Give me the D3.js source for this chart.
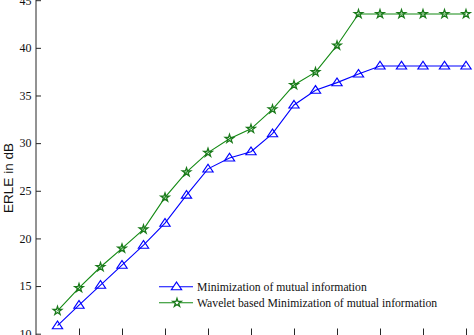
<!DOCTYPE html>
<html>
<head>
<meta charset="utf-8">
<script src="https://cdn.jsdelivr.net/npm/d3@7"></script>
<style>
  html, body { margin: 0; padding: 0; background: #fff; }
  svg { display: block; }
</style>
</head>
<body>
<svg id="chart" width="474" height="335"></svg>
<script>
// ---- data ----
const iterations = [1,2,3,4,5,6,7,8,9,10,11,12,13,14,15,16,17,18,19,20];
const mmiValues = [10.84,13.0,15.1,17.2,19.3,21.6,24.55,27.3,28.45,29.1,31.0,34.0,35.55,36.35,37.25,38.1,38.1,38.1,38.1,38.1];
const waveletValues = [12.4,14.8,17.0,18.95,20.95,24.3,26.95,29.0,30.45,31.5,33.55,36.1,37.45,40.25,43.55,43.55,43.55,43.55,43.55,43.55];
const yTicks = [10,15,20,25,30,35,40,45];
const xTicks = [2,4,6,8,10,12,14,16,18,20];
const seriesNames = ["Minimization of mutual information", "Wavelet based Minimization of mutual information"];
const yLabel = "ERLE in dB";

const svg = d3.select("#chart");
const W = 474, H = 335;
svg.append("rect").attr("width", W).attr("height", H).attr("fill", "#fff");

const x = d3.scaleLinear().domain([0, 20]).range([36, 466]);
const y = d3.scaleLinear().domain([10, 45]).range([333.7, 0.2]);

const axisColor = "#262626";

// y axis
const ya = svg.append("g").attr("transform", "translate(36,0)")
  .call(d3.axisLeft(y).tickValues(yTicks).tickSizeInner(-5).tickSizeOuter(0).tickPadding(4.5).tickFormat(d3.format("d")));
ya.select(".domain").attr("stroke", axisColor).attr("d", "M0,-5V340");
ya.selectAll(".tick line").attr("stroke", axisColor);
ya.selectAll(".tick text").attr("fill", "#111").style("font-family", "'Liberation Serif','Times New Roman',serif").style("font-size", "12px");

// x axis (tick labels lie below the cropped view in the reference)
const xa = svg.append("g").attr("transform", "translate(0,335.5)")
  .call(d3.axisBottom(x).tickValues(xTicks).tickSizeInner(-7).tickSizeOuter(0).tickFormat(""));
xa.select(".domain").attr("stroke", axisColor);
xa.selectAll(".tick line").attr("stroke", axisColor);

// y label
svg.append("text")
  .attr("transform", "translate(13,178) rotate(-90)")
  .attr("text-anchor", "middle")
  .style("font-family", "'Liberation Sans', Arial, Helvetica, sans-serif")
  .style("font-size", "13.5px")
  .attr("fill", "#111")
  .text(yLabel);

const blue = "#0000ff", green = "#138a13", starStroke = "#1a7a1a";
const line = d3.line().x(d => x(d[0])).y(d => y(d[1]));
const triangle = d3.symbol().type(d3.symbolTriangle).size(46);
const star = d3.symbol().type(d3.symbolStar).size(22);
const triScale = "scale(1.0,0.86)";

const s1 = iterations.map((it, i) => [it, mmiValues[i]]);
const s2 = iterations.map((it, i) => [it, waveletValues[i]]);

svg.append("path").datum(s2).attr("d", line).attr("fill", "none").attr("stroke", green).attr("stroke-width", 1.1);
svg.append("path").datum(s1).attr("d", line).attr("fill", "none").attr("stroke", blue).attr("stroke-width", 1.1);

svg.selectAll(".tri").data(s1).enter().append("path")
  .attr("d", triangle)
  .attr("transform", d => `translate(${x(d[0])},${y(d[1]) + 0.5}) ${triScale}`)
  .attr("fill", "none").attr("stroke", blue).attr("stroke-width", 1.2);

svg.selectAll(".star").data(s2).enter().append("path")
  .attr("d", star)
  .attr("transform", d => `translate(${x(d[0])},${y(d[1])})`)
  .attr("fill", "none").attr("stroke", starStroke).attr("stroke-width", 1.3);

// legend
const legend = svg.append("g");
const rows = [
  {name: seriesNames[0], color: blue, sym: "tri", yc: 286.7},
  {name: seriesNames[1], color: green, sym: "star", yc: 302.8}
];
rows.forEach(r => {
  legend.append("line").attr("x1", 159).attr("x2", 193).attr("y1", r.yc).attr("y2", r.yc)
    .attr("stroke", r.color).attr("stroke-width", 1.1);
  if (r.sym === "tri") {
    legend.append("path").attr("d", triangle)
      .attr("transform", `translate(176.5,${r.yc + 0.5}) ${triScale}`)
      .attr("fill", "#fff").attr("stroke", r.color).attr("stroke-width", 1.2);
  } else {
    legend.append("path").attr("d", star)
      .attr("transform", `translate(177,${r.yc})`)
      .attr("fill", "#fff").attr("stroke", starStroke).attr("stroke-width", 1.3);
  }
  legend.append("text").attr("x", 197).attr("y", r.yc).attr("dy", "0.35em")
    .style("font-family", "'Liberation Serif','Times New Roman',serif")
    .style("font-size", "11.7px").attr("fill", "#111").text(r.name);
});
</script>
</body>
</html>
